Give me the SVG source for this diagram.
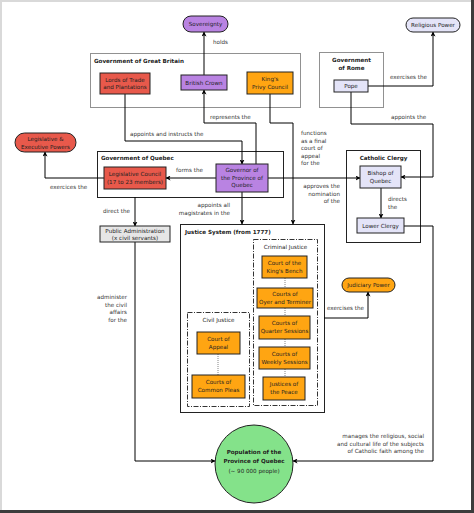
<svg xmlns="http://www.w3.org/2000/svg" width="474" height="513" viewBox="0 0 474 513">
<defs>
<marker id="ah" viewBox="0 0 10 10" refX="9" refY="5" markerWidth="5" markerHeight="5" orient="auto" markerUnits="userSpaceOnUse">
<path d="M0,0 L10,5 L0,10 L2.5,5 Z" fill="#000"/>
</marker>
<style>
text{font-family:"DejaVu Sans",sans-serif;font-size:5.6px;fill:#222}
.lbl{fill:#333}
.b{font-weight:bold}
.c{text-anchor:middle}
.r{text-anchor:end}
.box{stroke:#222;stroke-width:1}
.purple{fill:#b983e2}
.red{fill:#e8594b}
.orange{fill:#ffa512}
.lav{fill:#e4e4f8}
.gray{fill:#e6e6e6}
.green{fill:#84e28a}
.dotted{fill:none;stroke:#222;stroke-width:1;stroke-dasharray:1,1}
.solid{fill:none;stroke:#222;stroke-width:1}
.dashdot{fill:none;stroke:#333;stroke-width:1;stroke-dasharray:5,1.5,1,1.5}
.conn path{fill:none;stroke:#000;stroke-width:1}
.link{fill:none;stroke:#666;stroke-width:0.8;stroke-dasharray:1,1}
</style>
</defs>
<rect x="0" y="0" width="474" height="513" fill="#fff"/>
<rect x="0" y="0" width="474" height="2" fill="#d9d9d9"/>
<rect x="0" y="0" width="2" height="513" fill="#d9d9d9"/>
<rect x="471" y="0" width="3" height="513" fill="#3c3c3c"/>
<rect x="0" y="510" width="474" height="3" fill="#3c3c3c"/>

<g id="containers">
<rect id="gov-gb" x="90.5" y="53.5" width="210" height="54" class="dotted"/>
<text x="94" y="63" class="b">Government of Great Britain</text>
<rect id="gov-rome" x="319.5" y="52.5" width="64" height="55" class="dotted"/>
<text x="351.5" y="62" class="b c">Government</text>
<text x="351.5" y="70" class="b c">of Rome</text>
<rect id="catholic-clergy" x="346.5" y="150.5" width="74" height="92" class="solid"/>
<text x="383.5" y="160" class="b c">Catholic Clergy</text>
<rect id="gov-quebec" x="97.5" y="151.5" width="186" height="46" class="solid"/>
<text x="101" y="160" class="b">Government of Quebec</text>
<rect id="justice-system" x="180.5" y="224.5" width="144" height="188" class="solid"/>
<text x="185" y="234" class="b">Justice System (from 1777)</text>
<rect id="criminal-justice" x="253.5" y="239.5" width="64" height="166" class="dashdot"/>
<text x="285.5" y="249" class="c">Criminal Justice</text>
<rect id="civil-justice" x="187.5" y="312.5" width="62" height="94" class="dashdot"/>
<text x="218.5" y="322" class="c">Civil Justice</text>
</g>

<g class="conn" id="connectors">
<path d="M204,75 V32" marker-end="url(#ah)"/>
<path d="M256,164 V123 H204 V90" marker-end="url(#ah)"/>
<path d="M125,94 V141 H242 V164" marker-end="url(#ah)"/>
<path d="M270,94 V123 H293 V224" marker-end="url(#ah)"/>
<path d="M216,178 H166" marker-end="url(#ah)"/>
<path d="M104,178 H45 V152" marker-end="url(#ah)"/>
<path d="M135,197 V226" marker-end="url(#ah)"/>
<path d="M242,192 V224" marker-end="url(#ah)"/>
<path d="M268,178 H360" marker-end="url(#ah)"/>
<path d="M368,86 H433 V32" marker-end="url(#ah)"/>
<path d="M351,92 V124 H433 V177 H401" marker-end="url(#ah)"/>
<path d="M381,188 V218" marker-end="url(#ah)"/>
<path d="M404,226 H433 V461 H293" marker-end="url(#ah)"/>
<path d="M135,242 V461 H215" marker-end="url(#ah)"/>
<path d="M324,318 H368 V292" marker-end="url(#ah)"/>
<line x1="285" y1="278" x2="285" y2="288" class="link"/>
<line x1="285" y1="308" x2="285" y2="316" class="link"/>
<line x1="285" y1="339" x2="285" y2="347" class="link"/>
<line x1="285" y1="369" x2="285" y2="377" class="link"/>
<line x1="218" y1="354" x2="218" y2="375" class="link"/>
</g>

<g id="labels">
<text x="213" y="44" class="lbl">holds</text>
<text x="210" y="119" class="lbl">represents the</text>
<text x="130" y="136" class="lbl">appoints and instructs the</text>
<text x="301" y="135" class="lbl">functions</text>
<text x="301" y="142.5" class="lbl">as a final</text>
<text x="301" y="150" class="lbl">court of</text>
<text x="301" y="157.5" class="lbl">appeal</text>
<text x="301" y="165" class="lbl">for the</text>
<text x="390" y="79" class="lbl">exercises the</text>
<text x="391" y="119" class="lbl">appoints the</text>
<text x="176" y="172" class="lbl">forms the</text>
<text x="50" y="189" class="lbl">exercices the</text>
<text x="103" y="213" class="lbl">direct the</text>
<text x="230" y="207" class="lbl r">appoints all</text>
<text x="230" y="215" class="lbl r">magistrates in the</text>
<text x="340" y="188" class="lbl r">approves the</text>
<text x="340" y="195.5" class="lbl r">nomination</text>
<text x="340" y="203" class="lbl r">of the</text>
<text x="388" y="201" class="lbl">directs</text>
<text x="388" y="208.5" class="lbl">the</text>
<text x="127" y="299" class="lbl r">administer</text>
<text x="127" y="306.5" class="lbl r">the civil</text>
<text x="127" y="314" class="lbl r">affairs</text>
<text x="127" y="321.5" class="lbl r">for the</text>
<text x="327" y="310" class="lbl">exercises the</text>
<text x="424" y="438" class="lbl r">manages the  religious, social</text>
<text x="424" y="445.5" class="lbl r">and cultural life of the subjects</text>
<text x="424" y="453" class="lbl r">of Catholic faith among the</text>
</g>

<g id="sovereignty"><rect x="183" y="16" width="45" height="16" rx="8" class="box purple"/><text x="205.5" y="26" class="c">Sovereignty</text></g>
<g id="religious-power"><rect x="406" y="18" width="54" height="14" rx="7" class="box lav"/><text x="433" y="27" class="c">Religious Power</text></g>
<g id="lords-of-trade"><rect x="100" y="73" width="50" height="21" class="box red"/><text x="125" y="81.5" class="c">Lords of Trade</text><text x="125" y="89" class="c">and Plantations</text></g>
<g id="british-crown"><rect x="181" y="75" width="46" height="15" class="box purple"/><text x="204" y="85" class="c">British Crown</text></g>
<g id="privy-council"><rect x="247" y="72" width="46" height="22" class="box orange"/><text x="270" y="81" class="c">King's</text><text x="270" y="88.5" class="c">Privy Council</text></g>
<g id="pope"><rect x="334" y="80" width="34" height="12" class="box lav"/><text x="351" y="88" class="c">Pope</text></g>
<g id="leg-exec-powers"><rect x="15" y="133" width="61" height="19" rx="9.5" class="box red"/><text x="45.5" y="141" class="c">Legislative &amp;</text><text x="45.5" y="148.5" class="c">Executive Powers</text></g>
<g id="legislative-council"><rect x="104" y="167" width="62" height="22" class="box red"/><text x="135" y="175.5" class="c">Legislative Council</text><text x="135" y="183.5" class="c">(17 to 23 members)</text></g>
<g id="governor"><rect x="216" y="164" width="52" height="28" class="box purple"/><text x="242" y="172" class="c">Governor of</text><text x="242" y="179.5" class="c">the Province of</text><text x="242" y="187" class="c">Quebec</text></g>
<g id="bishop"><rect x="360" y="166" width="41" height="22" class="box lav"/><text x="380.5" y="175" class="c">Bishop of</text><text x="380.5" y="183" class="c">Quebec</text></g>
<g id="lower-clergy"><rect x="357" y="218" width="47" height="15" class="box lav"/><text x="380.5" y="228" class="c">Lower Clergy</text></g>
<g id="public-administration"><rect x="100" y="226" width="70" height="16" class="box gray"/><text x="135" y="233" class="c">Public Administration</text><text x="135" y="240" class="c">(x  civil servants)</text></g>
<g id="judiciary-power"><rect x="342" y="278" width="53" height="14" rx="7" class="box orange"/><text x="368.5" y="287" class="c">Judiciary Power</text></g>
<g id="kings-bench"><rect x="262" y="256" width="45" height="22" class="box orange"/><text x="284.5" y="265" class="c">Court of the</text><text x="284.5" y="272.5" class="c">King's Bench</text></g>
<g id="oyer-terminer"><rect x="257" y="288" width="56" height="20" class="box orange"/><text x="285" y="296" class="c">Courts of</text><text x="285" y="303.5" class="c">Oyer and Terminer</text></g>
<g id="quarter-sessions"><rect x="259" y="316" width="51" height="23" class="box orange"/><text x="284.5" y="325" class="c">Courts of</text><text x="284.5" y="332.5" class="c">Quarter Sessions</text></g>
<g id="weekly-sessions"><rect x="259" y="347" width="51" height="22" class="box orange"/><text x="284.5" y="356" class="c">Courts of</text><text x="284.5" y="363.5" class="c">Weekly Sessions</text></g>
<g id="justices-peace"><rect x="263" y="377" width="42" height="23" class="box orange"/><text x="284" y="386" class="c">Justices of</text><text x="284" y="393.5" class="c">the Peace</text></g>
<g id="court-appeal"><rect x="197" y="332" width="43" height="22" class="box orange"/><text x="218.5" y="341" class="c">Court of</text><text x="218.5" y="348.5" class="c">Appeal</text></g>
<g id="common-pleas"><rect x="192" y="375" width="53" height="23" class="box orange"/><text x="218.5" y="384" class="c">Courts of</text><text x="218.5" y="391.5" class="c">Common Pleas</text></g>
<g id="population"><circle cx="254" cy="464" r="39" class="box green"/><text x="254" y="454" class="c b">Population of the</text><text x="254" y="463" class="c b">Province of Quebec</text><text x="254" y="473" class="c">(~ 90 000 people)</text></g>
</svg>
